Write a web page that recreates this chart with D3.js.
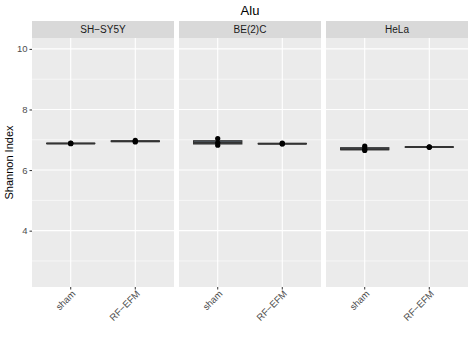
<!DOCTYPE html>
<html>
<head>
<meta charset="utf-8">
<script src="https://cdn.jsdelivr.net/npm/d3@7"></script>
<style>
  html, body { margin: 0; padding: 0; background: #fff; }
  svg { display: block; font-family: "Liberation Sans", Arial, sans-serif; }
</style>
</head>
<body>
<svg id="chart" width="474" height="338"></svg>
<script>
// Shannon index per sample, by cell line and treatment
const cellLines = ["SH−SY5Y", "BE(2)C", "HeLa"];
const treatments = ["sham", "RF−EFM"];
const shSy5yValues = { "sham": [6.87, 6.88, 6.89], "RF−EFM": [6.93, 6.95, 6.98] };
const be2cValues   = { "sham": [6.82, 6.90, 7.04], "RF−EFM": [6.86, 6.87, 6.89] };
const helaValues   = { "sham": [6.65, 6.69, 6.79], "RF−EFM": [6.75, 6.76, 6.77] };
const yTicks = [4, 6, 8, 10];
const yMinor = [3, 5, 7, 9];
const chartTitle = "Alu";
const yTitle = "Shannon Index";

const seriesByLine = { "SH−SY5Y": shSy5yValues, "BE(2)C": be2cValues, "HeLa": helaValues };

const svg = d3.select("#chart");
const panelLeft = 32, panelRight = 468, gap = 5;
const stripTop = 21, stripH = 17;
const plotTop = stripTop + stripH, plotBottom = 287;
const panelW = (panelRight - panelLeft - 2 * gap) / cellLines.length;

const y = d3.scaleLinear().domain([2.14, 10.36]).range([plotBottom, plotTop]);

// Title
svg.append("text").attr("x", (panelLeft + panelRight) / 2).attr("y", 15)
  .attr("text-anchor", "middle").attr("font-size", 13).attr("fill", "#000").text(chartTitle);

// Y axis title
svg.append("text")
  .attr("transform", `translate(13,${(plotTop + plotBottom) / 2}) rotate(-90)`)
  .attr("text-anchor", "middle").attr("font-size", 11).attr("fill", "#000").text(yTitle);

// Y axis (left of first panel)
const yAxis = svg.append("g").attr("transform", `translate(${panelLeft},0)`)
  .call(d3.axisLeft(y).tickValues(yTicks).tickSize(2.5).tickPadding(2).tickFormat(d3.format("d")));
yAxis.select(".domain").remove();
yAxis.selectAll("line").attr("stroke", "#333");
yAxis.selectAll("text").attr("fill", "#4D4D4D").attr("font-size", 9.5)
  .attr("font-family", "'Liberation Sans', Arial, sans-serif");

cellLines.forEach((line, i) => {
  const x0 = panelLeft + i * (panelW + gap);
  const x = d3.scaleBand().domain(treatments).range([x0, x0 + panelW]).paddingOuter(0.1).paddingInner(0);
  const bw = x.bandwidth();
  const cx = t => x(t) + bw / 2;
  const g = svg.append("g");

  // strip
  g.append("rect").attr("x", x0).attr("y", stripTop).attr("width", panelW).attr("height", stripH).attr("fill", "#D9D9D9");
  g.append("text").attr("x", x0 + panelW / 2).attr("y", stripTop + stripH / 2 + 3.5)
    .attr("text-anchor", "middle").attr("font-size", 10).attr("fill", "#1A1A1A").text(line);

  // panel background and grid
  g.append("rect").attr("x", x0).attr("y", plotTop).attr("width", panelW).attr("height", plotBottom - plotTop).attr("fill", "#EBEBEB");
  g.selectAll(".minor").data(yMinor).join("line")
    .attr("x1", x0).attr("x2", x0 + panelW).attr("y1", d => y(d)).attr("y2", d => y(d))
    .attr("stroke", "#fff").attr("stroke-width", 0.6);
  g.selectAll(".major").data(yTicks).join("line")
    .attr("x1", x0).attr("x2", x0 + panelW).attr("y1", d => y(d)).attr("y2", d => y(d))
    .attr("stroke", "#fff").attr("stroke-width", 1.1);
  g.selectAll(".vmajor").data(treatments).join("line")
    .attr("x1", d => cx(d)).attr("x2", d => cx(d)).attr("y1", plotTop).attr("y2", plotBottom)
    .attr("stroke", "#fff").attr("stroke-width", 1.1);

  // boxplots
  const boxW = bw * 0.75;
  treatments.forEach(t => {
    const vals = seriesByLine[line][t].slice().sort(d3.ascending);
    const q1 = d3.quantile(vals, 0.25), med = d3.quantile(vals, 0.5), q3 = d3.quantile(vals, 0.75);
    const iqr = q3 - q1;
    const lo = d3.min(vals.filter(v => v >= q1 - 1.5 * iqr));
    const hi = d3.max(vals.filter(v => v <= q3 + 1.5 * iqr));
    const c = cx(t);
    g.append("line").attr("x1", c).attr("x2", c).attr("y1", y(hi)).attr("y2", y(q3)).attr("stroke", "#333").attr("stroke-width", 1);
    g.append("line").attr("x1", c).attr("x2", c).attr("y1", y(q1)).attr("y2", y(lo)).attr("stroke", "#333").attr("stroke-width", 1);
    g.append("rect").attr("x", c - boxW / 2).attr("y", y(q3)).attr("width", boxW)
      .attr("height", Math.max(0, y(q1) - y(q3)))
      .attr("fill", "#56626e").attr("stroke", "#333").attr("stroke-width", 1);
    g.append("line").attr("x1", c - boxW / 2).attr("x2", c + boxW / 2).attr("y1", y(med)).attr("y2", y(med))
      .attr("stroke", "#333").attr("stroke-width", 2);
    g.selectAll(null).data(vals).join("circle")
      .attr("cx", c).attr("cy", d => y(d)).attr("r", 2.6).attr("fill", "#000");
  });

  // x axis
  const xa = svg.append("g").attr("transform", `translate(0,${plotBottom})`)
    .call(d3.axisBottom(x).tickSize(2.5).tickPadding(2));
  xa.select(".domain").remove();
  xa.selectAll("line").attr("stroke", "#333");
  xa.selectAll("text").attr("fill", "#4D4D4D").attr("font-size", 9.5)
    .attr("font-family", "'Liberation Sans', Arial, sans-serif")
    .attr("text-anchor", "end").attr("dy", "0.35em")
    .attr("transform", "translate(3,5) rotate(-45)").attr("y", 0).attr("x", 0);
});
</script>
</body>
</html>
